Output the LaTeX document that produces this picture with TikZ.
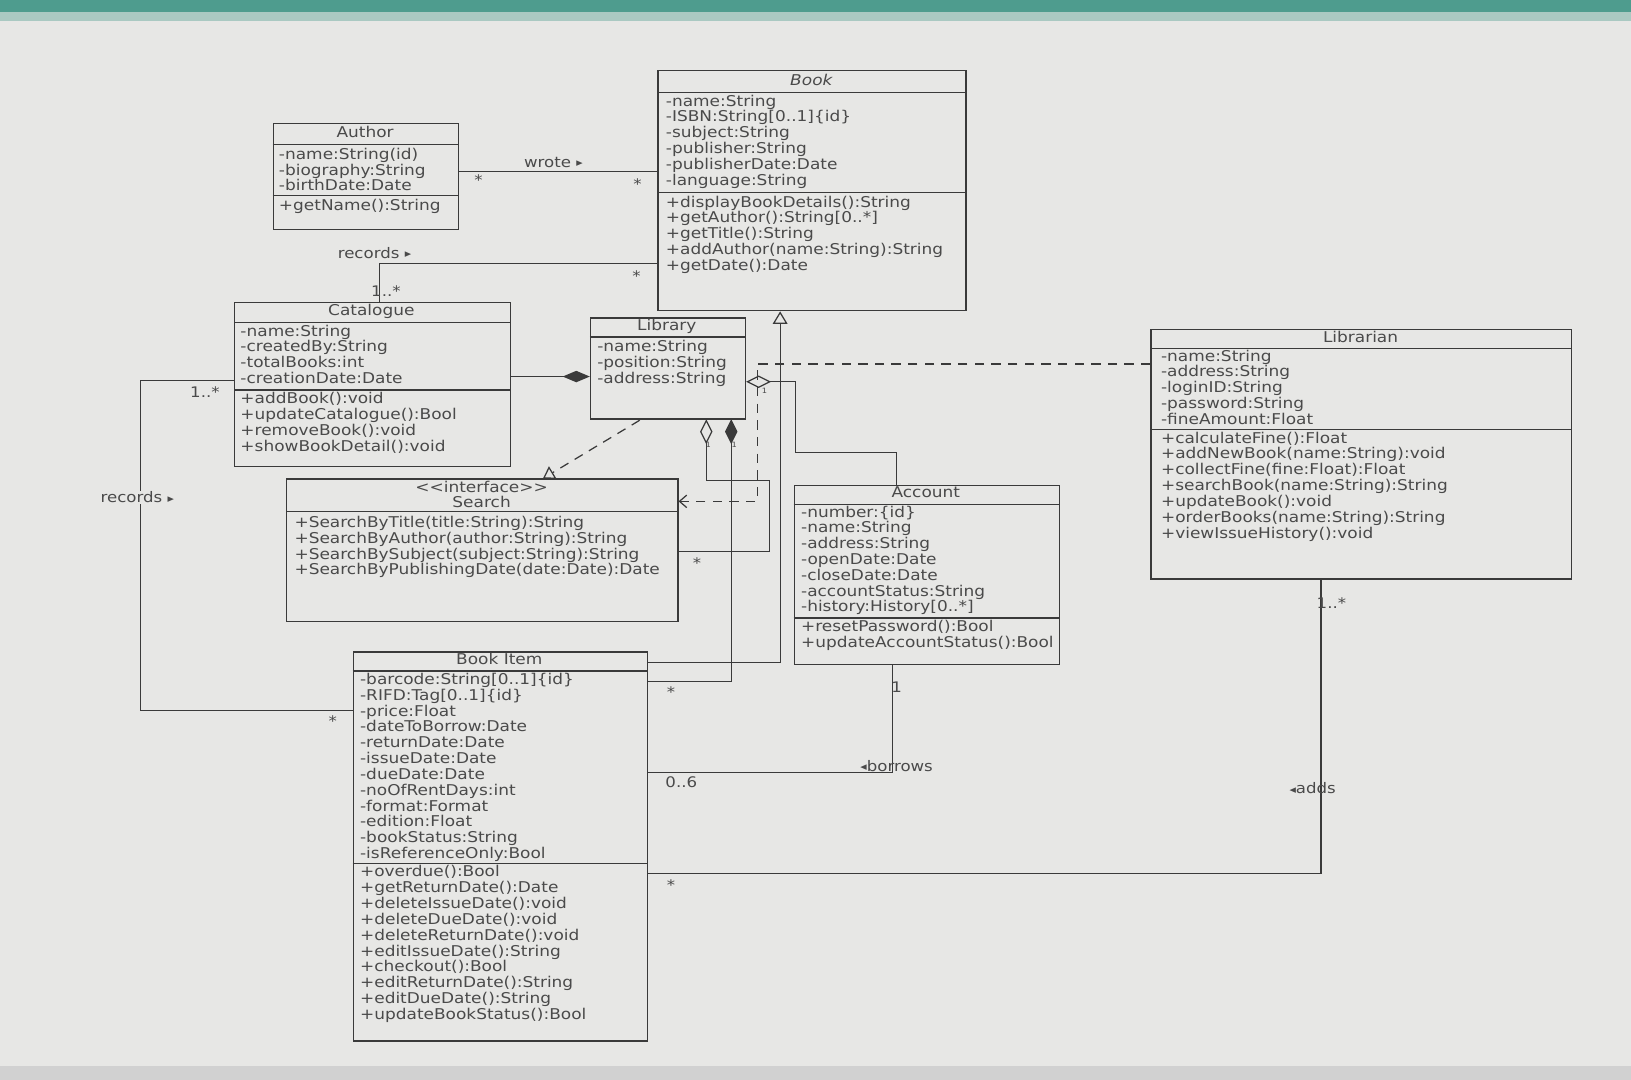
\documentclass[tikz,border=0pt]{standalone}
\usepackage{fontspec}
\setmainfont{DejaVu Sans}[FakeStretch=1.14]
\usetikzlibrary{arrows.meta,shapes.geometric}
\definecolor{bg}{HTML}{E7E7E5}
\definecolor{ln}{HTML}{3A3A3A}
\definecolor{tx}{HTML}{4A4A4A}
\definecolor{teal}{HTML}{4E9C8E}
\tikzset{
 box/.style={draw=ln,line width=1.3pt,rectangle,inner sep=0pt,anchor=north west},
 sep/.style={draw=ln,line width=1.3pt},
 txt/.style={anchor=north west,inner sep=0pt,yshift=-2pt,text=tx,font=\fontsize{14.3}{15.2}\selectfont,align=left},
 ttl/.style={anchor=north,inner sep=0pt,text=tx,font=\fontsize{14.3}{15.2}\selectfont,align=center},
 lbl/.style={inner sep=1pt,text=tx,font=\fontsize{14}{15}\selectfont},
 con/.style={draw=ln,line width=1.2pt},
 dep/.style={draw=ln,line width=1.2pt,dash pattern=on 9pt off 7pt},
}
\newcommand{\ubox}[5]{\node[box,minimum width=#4pt,minimum height=#5pt] (#1) at (#2,#3) {};}
\newcommand{\tril}{\raisebox{1.5pt}{\scriptsize ◀}}
\newcommand{\trir}{\raisebox{1.5pt}{\scriptsize ▶}}
\begin{document}
\begin{tikzpicture}[x=1pt,y=-1pt]
\fill[bg] (0,0) rectangle (1568,1038);
\fill[teal] (0,0) rectangle (1568,12);
\fill[teal!40!bg] (0,12) rectangle (1568,20);
\fill[black!18] (0,1025) rectangle (1568,1038);
\useasboundingbox (0,0) rectangle (1568,1038);

% Author
\ubox{author}{262}{118}{178}{102}
\draw[sep] (262,139)--(440,139) (262,188)--(440,188);
\node[ttl] (authort) at (351,121) {Author};
\node[txt] (authora) at (268,140) {-name:String(id)\\-biography:String\\-birthDate:Date};
\node[txt] (authorm) at (268,189) {+getName():String};

% Book
\ubox{book}{632}{67}{296}{231}
\draw[sep] (632,89)--(928,89) (632,185)--(928,185);
\node[ttl] (bookt) at (780,71) {\itshape Book};
\node[txt] (booka) at (640,89) {-name:String\\-ISBN:String[0..1]\{id\}\\-subject:String\\-publisher:String\\-publisherDate:Date\\-language:String};
\node[txt] (bookm) at (640,186) {+displayBookDetails():String\\+getAuthor():String[0..*]\\+getTitle():String\\+addAuthor(name:String):String\\+getDate():Date};

% Catalogue
\ubox{cat}{225}{290}{265}{158}
\draw[sep] (225,310)--(490,310) (225,375)--(490,375);
\node[ttl] (catt) at (357,292) {Catalogue};
\node[txt] (cata) at (231,310) {-name:String\\-createdBy:String\\-totalBooks:int\\-creationDate:Date};
\node[txt] (catm) at (231,375) {+addBook():void\\+updateCatalogue():Bool\\+removeBook():void\\+showBookDetail():void};

% Library
\ubox{lib}{567}{305}{149}{97}
\draw[sep] (567,324)--(716,324);
\node[ttl] (libt) at (641,307) {Library};
\node[txt] (liba) at (574,325) {-name:String\\-position:String\\-address:String};

% Search
\ubox{search}{275}{460}{376}{137}
\draw[sep] (275,492)--(651,492);
\node[ttl] (searcht) at (463,462) {<{}<interface>{}>\\Search};
\node[txt] (searchm) at (283,494) {+SearchByTitle(title:String):String\\+SearchByAuthor(author:String):String\\+SearchBySubject(subject:String):String\\+SearchByPublishingDate(date:Date):Date};

% Account
\ubox{acc}{763}{466}{255}{172}
\draw[sep] (763,485)--(1018,485) (763,594)--(1018,594);
\node[ttl] (acct) at (890,468) {Account};
\node[txt] (acca) at (770,484) {-number:\{id\}\\-name:String\\-address:String\\-openDate:Date\\-closeDate:Date\\-accountStatus:String\\-history:History[0..*]};
\node[txt] (accm) at (770,594) {+resetPassword():Bool\\+updateAccountStatus():Bool};

% Librarian
\ubox{lbn}{1106}{316}{404}{240}
\draw[sep] (1106,335)--(1510,335) (1106,413)--(1510,413);
\node[ttl] (lbnt) at (1308,318) {Librarian};
\node[txt] (lbna) at (1116,334) {-name:String\\-address:String\\-loginID:String\\-password:String\\-fineAmount:Float};
\node[txt] (lbnm) at (1116,413) {+calculateFine():Float\\+addNewBook(name:String):void\\+collectFine(fine:Float):Float\\+searchBook(name:String):String\\+updateBook():void\\+orderBooks(name:String):String\\+viewIssueHistory():void};

% Book Item
\ubox{item}{339}{626}{283}{374}
\draw[sep] (339,645)--(622,645) (339,830)--(622,830);
\node[ttl] (itemt) at (480,628) {Book Item};
\node[txt] (itema) at (346,645) {-barcode:String[0..1]\{id\}\\-RIFD:Tag[0..1]\{id\}\\-price:Float\\-dateToBorrow:Date\\-returnDate:Date\\-issueDate:Date\\-dueDate:Date\\-noOfRentDays:int\\-format:Format\\-edition:Float\\-bookStatus:String\\-isReferenceOnly:Bool};
\node[txt] (itemm) at (346,830) {+overdue():Bool\\+getReturnDate():Date\\+deleteIssueDate():void\\+deleteDueDate():void\\+deleteReturnDate():void\\+editIssueDate():String\\+checkout():Bool\\+editReturnDate():String\\+editDueDate():String\\+updateBookStatus():Bool};

% wrote
\draw[con] (author.east|-0,165) -- (book.west|-0,165);
\node[lbl] (wl) at (532,156) {wrote \trir};
\node[lbl] (w1) at (460,173) {*};
\node[lbl] (w2) at (613,177) {*};

% records book-catalogue
\coordinate (r1) at (365,253);
\draw[con] (book.west|-r1) -- (r1) -- (r1|-cat.north);
\node[lbl] (rl) at (360,243) {records \trir};
\node[lbl] (r1m) at (371,280) {1..*};
\node[lbl] (r2m) at (612,265) {*};

% composition catalogue-library
\draw[con,-{Diamond[fill=ln,length=26pt,width=11pt]}] (cat.east|-0,362) -- (lib.west|-0,362);

% records catalogue-bookitem
\coordinate (c1) at (135,366);
\coordinate (c2) at (135,683);
\draw[con] (cat.west|-c1) -- (c1) -- (c2) -- (item.west|-c2);
\node[lbl] (cl1) at (197,377) {1..*};
\node[lbl,fill=bg] (cl2) at (132,478) {records \trir};
\node[lbl] (cl3) at (320,693) {*};

% Library realizes Search
\draw[dep,-{Triangle[open,length=11pt,width=14pt]}] (615,404) -- (522,460);

% Library aggregation -> Search
\coordinate (a1) at (679,462);
\coordinate (a2) at (740,462);
\coordinate (a3) at (740,530);
\draw[con,{Diamond[open,length=24pt,width=12pt]}-] (679,403) -- (a1) -- (a2) -- (a3) -- (search.east|-a3);
\node[lbl] (am) at (670,541) {*};
\node[lbl] (am1) at (681,428) {\scriptsize 1};

% Library composition -> Book Item
\coordinate (b1) at (703,655);
\draw[con,{Diamond[fill=ln,length=24pt,width=12pt]}-] (703,403) -- (b1) -- (item.east|-b1);
\node[lbl] (bm) at (645,665) {*};
\node[lbl] (bm1) at (706,428) {\scriptsize 1};

% generalization Book Item -> Book
\coordinate (g1) at (750,637);
\draw[con,-{Triangle[open,length=12pt,width=14pt]}] (item.east|-g1) -- (g1) -- (g1|-book.south);

% Library - Account
\coordinate (k1) at (765,367);
\coordinate (k2) at (765,435);
\coordinate (k3) at (862,435);
\draw[con,{Diamond[open,length=24pt,width=12pt]}-] (lib.east|-k1) -- (k1) -- (k2) -- (k3) -- (k3|-acc.north);
\node[lbl] (km) at (735,376) {\scriptsize 1};

% Librarian dependency -> Search
\coordinate (d1) at (728,350);
\coordinate (d2) at (728,482);
\draw[dep,-{Straight Barb[length=7pt,width=12pt]}] (lbn.west|-d1) -- (d1) -- (d2) -- (search.east|-d2);

% borrows
\coordinate (o1) at (858,743);
\draw[con] (o1|-acc.south) -- (o1) -- (item.east|-o1);
\node[lbl] (ol) at (862,736) {\tril borrows};
\node[lbl] (o1m) at (862,661) {1};
\node[lbl] (o2m) at (655,752) {0..6};

% adds
\coordinate (s1) at (1270,556);
\coordinate (s2) at (1270,840);
\draw[con] (s1) -- (s2) -- (item.east|-s2);
\node[lbl] (sl) at (1262,758) {\tril adds};
\node[lbl] (s1m) at (1280,580) {1..*};
\node[lbl] (s2m) at (645,851) {*};
\end{tikzpicture}
\end{document}
